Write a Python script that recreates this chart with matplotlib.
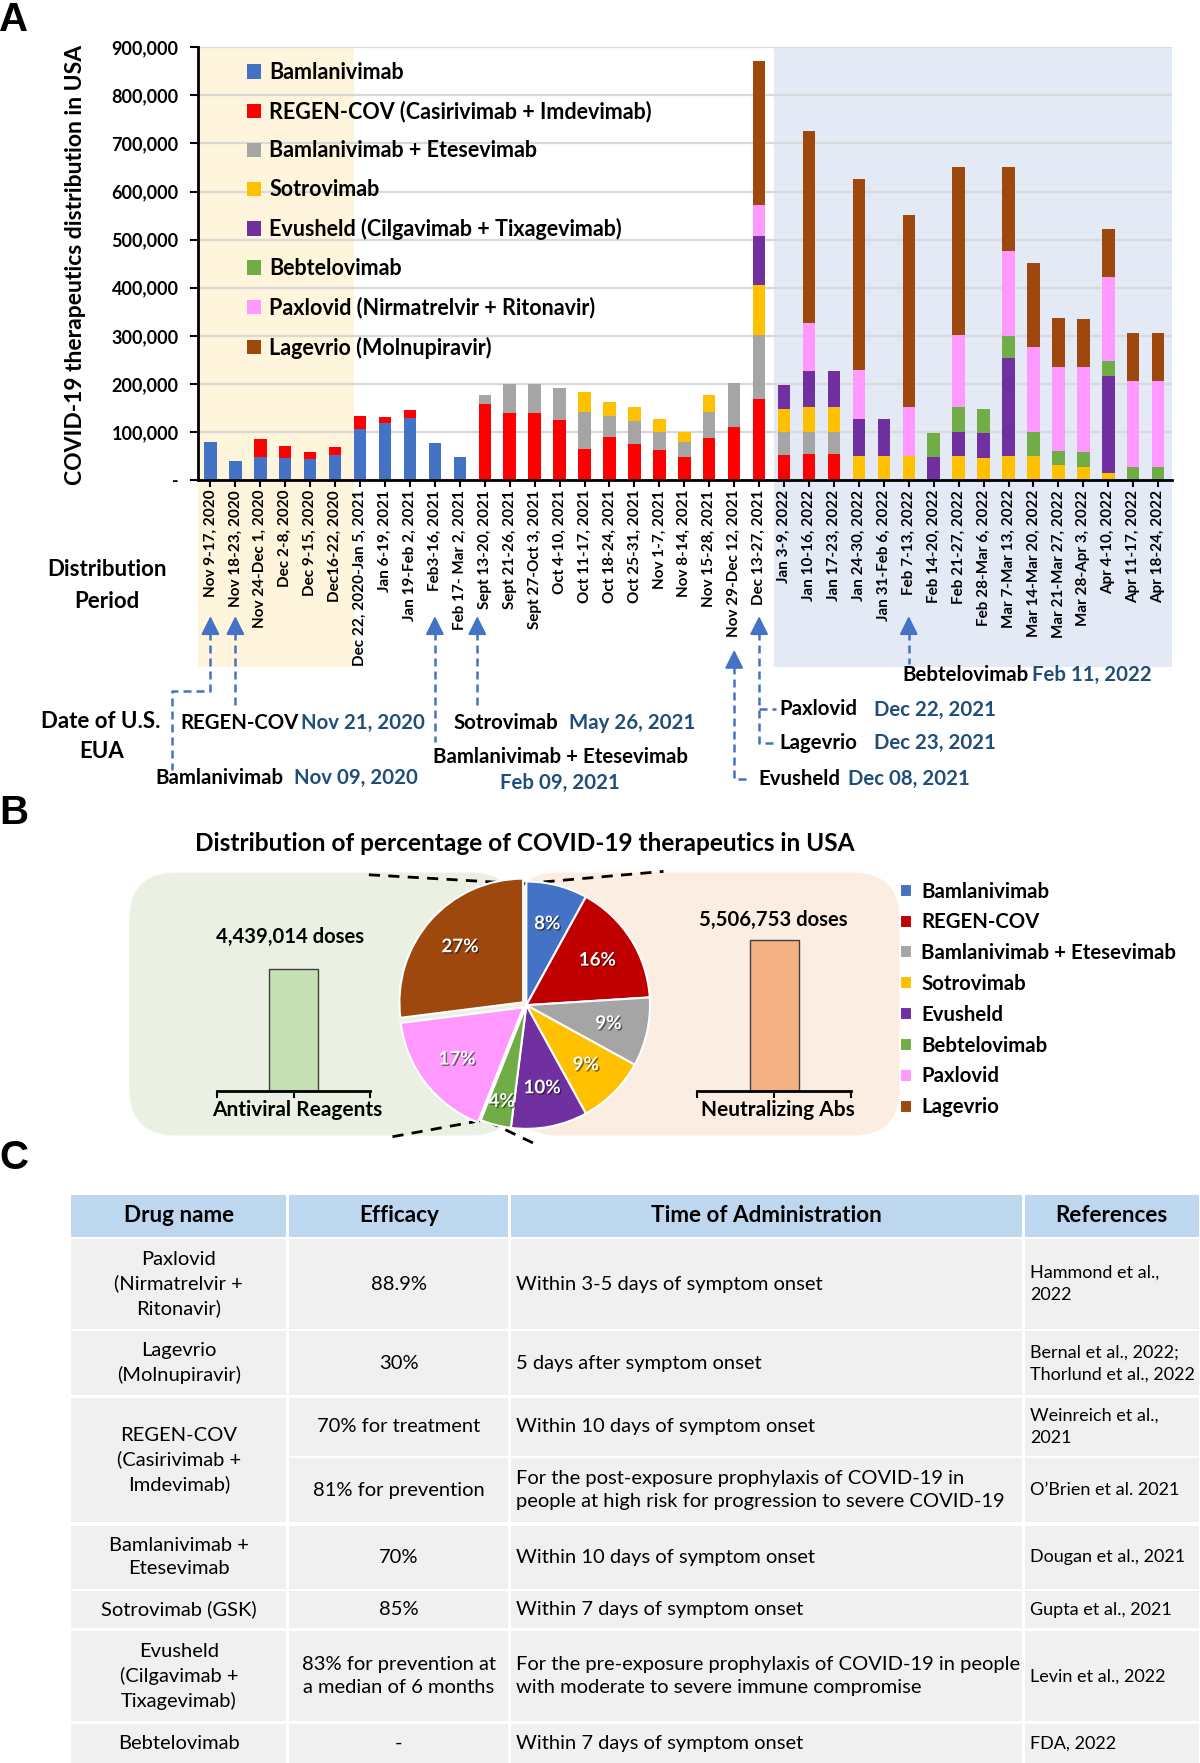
import matplotlib
matplotlib.use("Agg")
import matplotlib.pyplot as plt
import matplotlib.transforms as mtransforms
import matplotlib.patheffects as pe
from matplotlib.patches import Rectangle, FancyBboxPatch
from matplotlib.lines import Line2D
import numpy as np

plt.rcParams['font.family'] = ['Lato', 'DejaVu Sans']

# ---------------------------------------------------------------- data
periods = ["Nov 9-17, 2020", "Nov 18-23, 2020", "Nov 24-Dec 1, 2020", "Dec 2-8, 2020",
           "Dec 9-15, 2020", "Dec16-22, 2020", "Dec 22, 2020-Jan 5, 2021", "Jan 6-19, 2021",
           "Jan 19-Feb 2, 2021", "Feb3-16, 2021", "Feb 17- Mar 2, 2021", "Sept 13-20, 2021",
           "Sept 21-26, 2021", "Sept 27-Oct 3, 2021", "Oct 4-10, 2021", "Oct 11-17, 2021",
           "Oct 18-24, 2021", "Oct 25-31, 2021", "Nov 1-7, 2021", "Nov 8-14, 2021",
           "Nov 15-28, 2021", "Nov 29-Dec 12, 2021", "Dec 13-27, 2021", "Jan 3-9, 2022",
           "Jan 10-16, 2022", "Jan 17-23, 2022", "Jan 24-30, 2022", "Jan 31-Feb 6, 2022",
           "Feb 7-13, 2022", "Feb 14-20, 2022", "Feb 21-27, 2022", "Feb 28-Mar 6, 2022",
           "Mar 7-Mar 13, 2022", "Mar 14-Mar 20, 2022", "Mar 21-Mar 27, 2022", "Mar 28-Apr 3, 2022",
           "Apr 4-10, 2022", "Apr 11-17, 2022", "Apr 18-24, 2022"]

# doses distributed, in thousands
bamlanivimab_k = [79, 40, 48, 45, 43, 52, 107, 119, 130, 78, 48,
                  0, 0, 0, 0, 0, 0, 0, 0, 0, 0, 0, 0,
                  0, 0, 0, 0, 0, 0, 0, 0, 0, 0, 0, 0, 0, 0, 0, 0]
regen_cov_k = [0, 0, 37, 26, 16, 17, 27, 12, 15, 0, 0,
               159, 139, 139, 124, 64, 89, 76, 62, 49, 87, 111, 168,
               53, 55, 55, 0, 0, 0, 0, 0, 0, 0, 0, 0, 0, 0, 0, 0]
bam_ete_k = [0, 0, 0, 0, 0, 0, 0, 0, 0, 0, 0,
             18, 61, 61, 67, 77, 45, 46, 39, 31, 54, 90, 134,
             46, 44, 44, 0, 0, 0, 0, 0, 0, 0, 0, 0, 0, 0, 0, 0]
sotrovimab_k = [0, 0, 0, 0, 0, 0, 0, 0, 0, 0, 0,
                0, 0, 0, 0, 43, 28, 30, 25, 19, 35, 0, 104,
                48, 53, 53, 50, 50, 50, 0, 50, 45, 50, 50, 31, 28, 15, 0, 0]
evusheld_k = [0, 0, 0, 0, 0, 0, 0, 0, 0, 0, 0,
              0, 0, 0, 0, 0, 0, 0, 0, 0, 0, 0, 101,
              51, 75, 74, 77, 77, 0, 48, 51, 52, 203, 0, 0, 0, 202, 0, 0]
bebtelovimab_k = [0, 0, 0, 0, 0, 0, 0, 0, 0, 0, 0,
                  0, 0, 0, 0, 0, 0, 0, 0, 0, 0, 0, 0,
                  0, 0, 0, 0, 0, 0, 50, 50, 51, 47, 51, 30, 31, 30, 28, 28]
paxlovid_k = [0, 0, 0, 0, 0, 0, 0, 0, 0, 0, 0,
              0, 0, 0, 0, 0, 0, 0, 0, 0, 0, 0, 65,
              0, 100, 0, 101, 0, 102, 0, 150, 0, 176, 176, 175, 176, 175, 178, 178]
lagevrio_k = [0, 0, 0, 0, 0, 0, 0, 0, 0, 0, 0,
              0, 0, 0, 0, 0, 0, 0, 0, 0, 0, 0, 300,
              0, 399, 0, 399, 0, 400, 0, 349, 0, 175, 174, 101, 100, 100, 99, 99]

series_labels = ["Bamlanivimab", "REGEN-COV (Casirivimab + Imdevimab)", "Bamlanivimab + Etesevimab",
                 "Sotrovimab", "Evusheld (Cilgavimab + Tixagevimab)", "Bebtelovimab",
                 "Paxlovid (Nirmatrelvir + Ritonavir)", "Lagevrio (Molnupiravir)"]
series_values = [bamlanivimab_k, regen_cov_k, bam_ete_k, sotrovimab_k,
                 evusheld_k, bebtelovimab_k, paxlovid_k, lagevrio_k]
bar_colors = ["#4472C4", "#FF0000", "#A5A5A5", "#FFC000", "#7030A0", "#70AD47", "#FF99FF", "#9E480E"]

y_ticks = [0, 100000, 200000, 300000, 400000, 500000, 600000, 700000, 800000, 900000]
y_ticklabels = ["-", "100,000", "200,000", "300,000", "400,000", "500,000",
                "600,000", "700,000", "800,000", "900,000"]

# EUA dates and the period position each arrow points to
eua_drugs = ["Bamlanivimab", "REGEN-COV", "Bamlanivimab + Etesevimab", "Sotrovimab",
             "Evusheld", "Paxlovid", "Lagevrio", "Bebtelovimab"]
eua_dates = ["Nov 09, 2020", "Nov 21, 2020", "Feb 09, 2021", "May 26, 2021",
             "Dec 08, 2021", "Dec 22, 2021", "Dec 23, 2021", "Feb 11, 2022"]
eua_period_pos = [0, 1, 9, 10.7, 21, 22, 22, 28]

# panel B
pie_labels = ["Bamlanivimab", "REGEN-COV", "Bamlanivimab + Etesevimab", "Sotrovimab",
              "Evusheld", "Bebtelovimab", "Paxlovid", "Lagevrio"]
pie_percent = [8, 16, 9, 9, 10, 4, 17, 27]
pie_colors = ["#4472C4", "#C00000", "#A5A5A5", "#FFC000", "#7030A0", "#70AD47", "#FF99FF", "#9E480E"]
group_labels = ["Antiviral Reagents", "Neutralizing Abs"]
group_doses = [4439014, 5506753]

# panel C
table_header = ["Drug name", "Efficacy", "Time of Administration", "References"]
drug_names = ["Paxlovid\n(Nirmatrelvir +\nRitonavir)", "Lagevrio\n(Molnupiravir)",
              "REGEN-COV\n(Casirivimab +\nImdevimab)", "Bamlanivimab +\nEtesevimab",
              "Sotrovimab (GSK)", "Evusheld\n(Cilgavimab +\nTixagevimab)", "Bebtelovimab"]
drug_row_span = [1, 1, 2, 1, 1, 1, 1]
efficacy = ["88.9%", "30%", "70% for treatment", "81% for prevention", "70%", "85%",
            "83% for prevention at\na median of 6 months", "-"]
administration = ["Within 3-5 days of symptom onset", "5 days after symptom onset",
                  "Within 10 days of symptom onset",
                  "For the post-exposure prophylaxis of COVID-19 in\npeople at high risk for progression to severe COVID-19",
                  "Within 10 days of symptom onset", "Within 7 days of symptom onset",
                  "For the pre-exposure prophylaxis of COVID-19 in people\nwith moderate to severe immune compromise",
                  "Within 7 days of symptom onset"]
references = ["Hammond et al.,\n2022", "Bernal et al., 2022;\nThorlund et al., 2022",
              "Weinreich et al.,\n2021", "O\u2019Brien et al. 2021", "Dougan et al., 2021",
              "Gupta et al., 2021", "Levin et al., 2022", "FDA, 2022"]

# ---------------------------------------------------------------- layout
fig = plt.figure(figsize=(12.0, 17.63), dpi=100)
W, H = 1067.0, 1568.0


def frac_box(x0, y0, x1, y1):
    return [x0 / W, 1 - y1 / H, (x1 - x0) / W, (y1 - y0) / H]


axA = fig.add_axes(frac_box(176, 42, 1042, 427), zorder=1)
ov = fig.add_axes([0, 0, 1, 1], zorder=2)
ov.set_xlim(0, W)
ov.set_ylim(H, 0)
ov.axis('off')

BOLD = 'bold'
FS_ANN = 14.7

# ---------------------------------------------------------------- panel A
x = np.arange(len(periods))
bottom = np.zeros(len(periods))
for lab, vals, col in zip(series_labels, series_values, bar_colors):
    v = np.array(vals, dtype=float) * 1000
    axA.bar(x, v, 0.5, bottom=bottom, color=col, label=lab, zorder=2, linewidth=0)
    bottom += v

axA.set_xlim(-0.5, 38.55)
axA.set_ylim(0, 900000)
axA.set_axisbelow(True)
axA.yaxis.grid(True, color='#D9D9D9', lw=1.6)
axA.set_yticks(y_ticks)
axA.set_yticklabels(y_ticklabels, fontsize=13, fontweight=BOLD)
axA.set_xticks(x)
axA.set_xticklabels(periods, rotation=90, fontsize=11, fontweight=BOLD)
axA.tick_params(axis='y', direction='out', length=6, width=1.5, pad=8)
axA.tick_params(axis='x', direction='out', length=5, width=1.5, pad=2)
for s in ['top', 'right']:
    axA.spines[s].set_visible(False)
for s in ['left', 'bottom']:
    axA.spines[s].set_linewidth(2)
    axA.spines[s].set_color('black')

tA = mtransforms.blended_transform_factory(axA.transData, axA.transAxes)
axA.add_patch(Rectangle((-0.5, -0.431), 6.27, 1.431, transform=tA, facecolor='#FFF5DD',
                        edgecolor='none', zorder=0, clip_on=False))
axA.add_patch(Rectangle((22.6, -0.431), 15.95, 1.431, transform=tA, facecolor='#E4EAF5',
                        edgecolor='none', zorder=0, clip_on=False))

leg = axA.legend(loc='upper left', bbox_to_anchor=(0.05, 0.966), frameon=False,
                 prop={'size': 15.5, 'weight': 'bold'}, handlelength=0.65, handleheight=0.65,
                 handletextpad=0.4, labelspacing=0.83, borderpad=0, borderaxespad=0)

ov.text(67, 236, "COVID-19 therapeutics distribution in USA", rotation=90, ha='center',
        va='center', fontsize=16.5, fontweight=BOLD)
ov.text(95, 521, "Distribution\nPeriod", ha='center', va='center', fontsize=16,
        fontweight=BOLD, linespacing=1.65)
ov.text(90, 655, "Date of U.S.\nEUA", ha='center', va='center', fontsize=16,
        fontweight=BOLD, linespacing=1.5)

# EUA arrows
tr = mtransforms.blended_transform_factory(axA.transData, ov.transData)
arrow_blue = '#4472C4'
date_blue = '#1F4E79'


def dashed(xs, ys):
    ov.add_line(Line2D(xs, ys, transform=tr, color=arrow_blue, lw=1.8,
                       ls=(0, (3.2, 2.0)), clip_on=False))


def head(xi, ytip):
    ov.annotate('', xy=(xi, ytip), xycoords=tr, xytext=(xi, ytip + 14), textcoords=tr,
                arrowprops=dict(arrowstyle='-|>,head_length=0.8,head_width=0.4',
                                color=arrow_blue, lw=1.5, shrinkA=0, shrinkB=0,
                                mutation_scale=14))


def name_date(name, date, xn, xd, y):
    ov.text(xn, y, name, ha='left', va='center', fontsize=FS_ANN, fontweight=BOLD, color='black')
    ov.text(xd, y, date, ha='left', va='center', fontsize=FS_ANN, fontweight=BOLD, color=date_blue)


p = eua_period_pos
# Bamlanivimab
head(p[0], 548)
dashed([p[0], p[0], -1.53, -1.53], [562, 615, 615, 685])
name_date(eua_drugs[0], eua_dates[0], 138, 261, 692)
# REGEN-COV
head(p[1], 548)
dashed([p[1], p[1]], [562, 630])
name_date(eua_drugs[1], eua_dates[1], 160, 268, 643)
# Bamlanivimab + Etesevimab
head(p[2], 548)
dashed([p[2], p[2]], [562, 660])
ov.text(385, 673, eua_drugs[2], ha='left', va='center', fontsize=FS_ANN, fontweight=BOLD)
ov.text(498, 696, eua_dates[2], ha='center', va='center', fontsize=FS_ANN, fontweight=BOLD,
        color=date_blue)
# Sotrovimab
head(p[3], 548)
dashed([p[3], p[3]], [562, 628])
name_date(eua_drugs[3], eua_dates[3], 403, 506, 643)
# Evusheld
head(p[4], 578)
dashed([p[4], p[4], 21.69], [592, 693, 693])
name_date(eua_drugs[4], eua_dates[4], 674, 754, 693)
# Paxlovid / Lagevrio
head(p[5], 548)
dashed([p[5], p[5], 22.68], [562, 661, 661])
dashed([p[5], 22.68], [631, 631])
name_date(eua_drugs[5], eua_dates[5], 693, 777, 631)
name_date(eua_drugs[6], eua_dates[6], 693, 777, 661)
# Bebtelovimab
head(p[7], 548)
dashed([p[7], p[7]], [562, 591])
name_date(eua_drugs[7], eua_dates[7], 802, 918, 600)

# panel letters
for letter, yy in [("A", 18), ("B", 723), ("C", 1030)]:
    ov.text(12, yy, letter, ha='center', va='center', fontsize=29, fontweight='bold',
            family=['Liberation Sans', 'DejaVu Sans'])

# ---------------------------------------------------------------- panel B
ov.text(467, 750, "Distribution of percentage of COVID-19 therapeutics in USA", ha='center',
        va='center', fontsize=17.6, fontweight=BOLD)
ov.add_patch(FancyBboxPatch((115, 776), 345, 234, boxstyle='round,pad=0,rounding_size=42',
                            facecolor='#EAF1E3', edgecolor='none', zorder=0))
ov.add_patch(FancyBboxPatch((455, 776), 345, 234, boxstyle='round,pad=0,rounding_size=42',
                            facecolor='#FCEDE3', edgecolor='none', zorder=0.5))
for pts in ([(328, 778), (465, 786), (590, 775)], [(349, 1011), (431, 996), (477, 1018)]):
    xs, ys = zip(*pts)
    ov.add_line(Line2D(xs, ys, color='black', lw=2, ls=(0, (4, 3)), zorder=1))

cx, cy, R = 468, 894, 110
axP = fig.add_axes(frac_box(cx - 1.12 * R, cy - 1.12 * R, cx + 1.12 * R, cy + 1.12 * R), zorder=3)
explode = [0, 0, 0, 0, 0, 0, 0.03, 0.035]
wedges, texts, autotexts = axP.pie(
    pie_percent, colors=pie_colors, startangle=90, counterclock=False, explode=explode,
    autopct=lambda v: f"{v:.0f}%", pctdistance=0.68,
    wedgeprops=dict(edgecolor='white', linewidth=1.5),
    textprops=dict(color='white', fontsize=13.5, fontweight='bold'))
for t in autotexts:
    t.set_path_effects([pe.withSimplePatchShadow(offset=(1, -1), shadow_rgbFace='black', alpha=0.5)])
xx, yy = autotexts[5].get_position()
autotexts[5].set_position((xx * 1.18, yy * 1.18))
axP.set_xlim(-1.12, 1.12)
axP.set_ylim(-1.12, 1.12)
axP.set_aspect('equal')
axP.axis('off')

ymax = group_doses[1] * 150 / 134.0
for (x0, x1), dose, col, lab in zip([(193, 329), (620, 757)], group_doses,
                                    ['#C5E0B4', '#F4B183'], group_labels):
    axm = fig.add_axes(frac_box(x0, 820, x1, 970), zorder=3)
    axm.bar([0], [dose], 0.63, color=col, edgecolor='#3F3F3F', linewidth=1)
    axm.set_xlim(-1, 1)
    axm.set_ylim(0, ymax)
    axm.patch.set_visible(False)
    for s in ['top', 'right', 'left']:
        axm.spines[s].set_visible(False)
    axm.spines['bottom'].set_linewidth(2)
    axm.set_yticks([])
    axm.set_xticks([-1, 0, 1])
    axm.set_xticklabels([])
    axm.tick_params(axis='x', direction='out', length=5, width=1.5)
    xc = (x0 + x1) / 2
    ov.text(xc + 3, 987, lab, ha='center', va='center', fontsize=15, fontweight=BOLD)
ov.text(258, 833, f"{group_doses[0]:,} doses", ha='center', va='center', fontsize=14.6, fontweight=BOLD)
ov.text(688, 818, f"{group_doses[1]:,} doses", ha='center', va='center', fontsize=14.6, fontweight=BOLD)

fig.legend(wedges, pie_labels, loc='upper left', bbox_to_anchor=(800 / W, 1 - 784 / H),
           bbox_transform=fig.transFigure, frameon=False, prop={'size': 14.7, 'weight': 'bold'},
           handlelength=0.6, handleheight=0.6, handletextpad=0.45, labelspacing=0.53,
           borderpad=0, borderaxespad=0)

# ---------------------------------------------------------------- panel C
col_edges = [62, 256, 453, 910, 1067]
header_rows = (1063, 1100)
row_edges = [(1102, 1182), (1184, 1241), (1243, 1295), (1297, 1354), (1357, 1413),
             (1415, 1448), (1451, 1531), (1533, 1568)]
gap = 1.3
FS_CELL = 14.5
for c in range(4):
    x0, x1 = col_edges[c], col_edges[c + 1]
    ov.add_patch(Rectangle((x0 + gap, header_rows[0]), x1 - x0 - 2 * gap,
                           header_rows[1] - header_rows[0], facecolor='#BDD7EE', edgecolor='none'))
    ov.text((x0 + x1) / 2, sum(header_rows) / 2, table_header[c], ha='center', va='center',
            fontsize=16.2, fontweight=BOLD)
for r, (y0, y1) in enumerate(row_edges):
    for c in range(1, 4):
        x0, x1 = col_edges[c], col_edges[c + 1]
        ov.add_patch(Rectangle((x0 + gap, y0), x1 - x0 - 2 * gap, y1 - y0,
                               facecolor='#F0F0F0', edgecolor='none'))
    yc = (y0 + y1) / 2
    ov.text((col_edges[1] + col_edges[2]) / 2, yc, efficacy[r], ha='center', va='center',
            fontsize=FS_CELL, linespacing=1.43)
    ov.text(col_edges[2] + 6, yc, administration[r], ha='left', va='center', fontsize=FS_CELL,
            linespacing=1.43)
    ov.text(col_edges[3] + 6, yc, references[r], ha='left', va='center', fontsize=13,
            linespacing=1.45)
r = 0
for name, span in zip(drug_names, drug_row_span):
    y0 = row_edges[r][0]
    y1 = row_edges[r + span - 1][1]
    ov.add_patch(Rectangle((col_edges[0] + gap, y0), col_edges[1] - col_edges[0] - 2 * gap,
                           y1 - y0, facecolor='#F0F0F0', edgecolor='none'))
    ov.text((col_edges[0] + col_edges[1]) / 2, (y0 + y1) / 2, name, ha='center', va='center',
            fontsize=FS_CELL, linespacing=1.46)
    r += span

fig.savefig("out.png", dpi=100)
